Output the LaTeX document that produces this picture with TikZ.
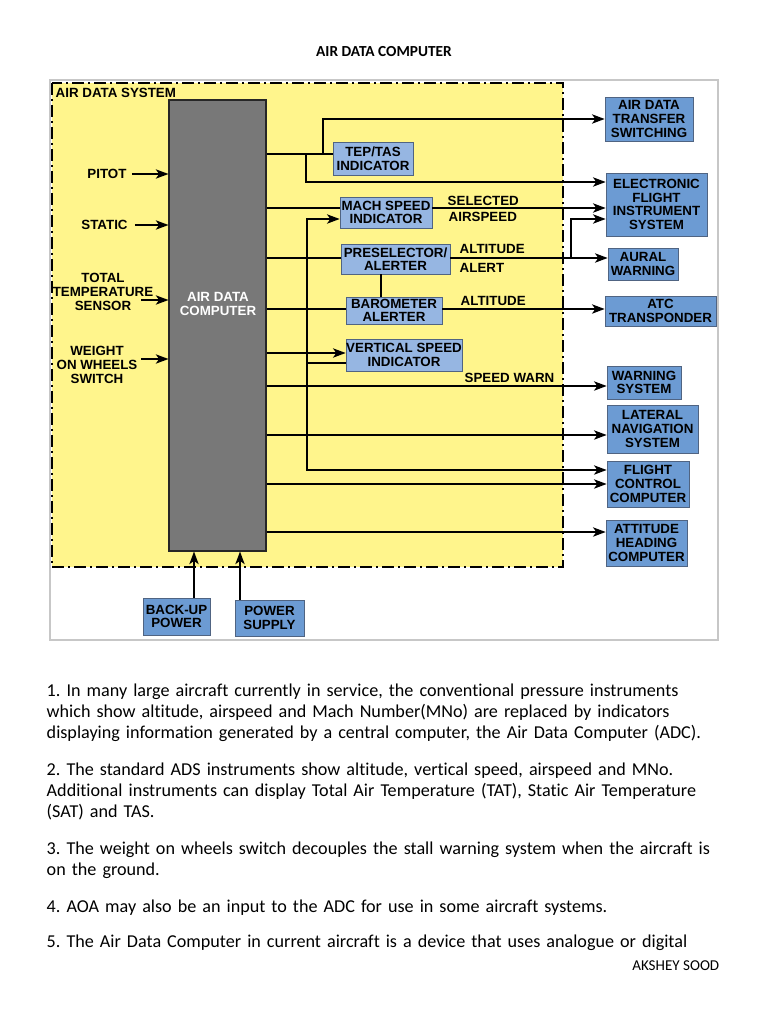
\documentclass[tikz,border=0pt]{standalone}
\usepackage{fontspec}
\setmainfont{Carlito}[Ligatures=NoCommon]
\newfontfamily\labelfont{Liberation Sans}
\usepackage{tikz}
\usetikzlibrary{arrows.meta, positioning, calc}
\definecolor{adsyellow}{RGB}{255,245,140}
\definecolor{instblue}{RGB}{150,182,226}
\definecolor{sysblue}{RGB}{108,155,211}
\definecolor{adcgrey}{RGB}{120,120,120}
\definecolor{boxedge}{RGB}{80,100,130}
\frenchspacing
\tikzset{
        x=0.75pt, y=-0.75pt, % one unit is one pixel of the page
        arr/.style={-{Stealth[length=9.5pt,width=7pt,inset=2.5pt]}}, % big black arrow head
        lbl/.style={font=\labelfont\bfseries\fontsize{10}{10.2}\selectfont, align=center, inner sep=0pt, text=black},
        txt/.style={font=\fontsize{13.6}{15.75}\selectfont, align=left, inner sep=0pt, text width=540pt},
    }
\tikzstyle{inst}=[draw=boxedge, line width=0.5pt, fill=instblue, lbl]
\tikzstyle{sys}=[draw=boxedge, line width=0.5pt, fill=sysblue, lbl]

\begin{document}
\begin{tikzpicture}[line width=1.1pt]
    \useasboundingbox[fill=white] (0,0) rectangle (768,1024);
    \node[font=\bfseries\fontsize{11.5}{13}\selectfont] (title) at (384,52) {AIR DATA COMPUTER};

    % frame and air data system area
    \draw[black!22, line width=0.8pt] (50,80) rectangle (718,640);
    \draw[fill=adsyellow, dash pattern=on 9pt off 3pt on 1.5pt off 3pt] (52,83) rectangle (563,567);
    \node[lbl, anchor=west] (ads) at (55,93) {AIR DATA SYSTEM};

    \node[draw=black!85, line width=0.8pt, fill=adcgrey, minimum width=72.75pt, minimum height=338.25pt] (adc) at (217.5,325.5) {};
    \node[lbl, text=white] (adctxt) at (218,304) {AIR DATA\\COMPUTER};

    % inputs
    \node[lbl] (pitot) at (107,174) {PITOT};
    \node[lbl] (static) at (104.5,225) {STATIC};
    \node[lbl] (tts) at (103,292) {TOTAL\\TEMPERATURE\\SENSOR};
    \node[lbl] (wow) at (97,365) {WEIGHT\\ON WHEELS\\SWITCH};
    \coordinate (ttsin) at (141,300);
    \coordinate (wowin) at (141,359);
    \draw[arr] ([xshift=3.5pt]pitot.east) -- (pitot.east -| adc.west);
    \draw[arr] ([xshift=5pt]static.east) -- (static.east -| adc.west);
    \draw[arr] (ttsin) -- (ttsin -| adc.west);
    \draw[arr] (wowin) -- (wowin -| adc.west);

    \node[sys, minimum width=50.25pt, minimum height=27.75pt] (bup) at (176.5,616.5) {BACK-UP\\POWER};
    \node[sys, minimum width=51.75pt, minimum height=27pt] (psu) at (269.5,618) {POWER\\SUPPLY};
    \coordinate (bupout) at ($(bup.north)+(17.5,0)$);
    \coordinate (psuout) at ($(psu.north)+(-29.5,0)$);
    \draw[arr] (bupout) -- (bupout |- adc.south);
    \draw[arr] (psuout) -- (psuout |- adc.south);

    % indicators inside the system
    \node[inst, minimum width=60pt, minimum height=24.75pt] (tep) at (373,158.5) {TEP/TAS\\INDICATOR};
    \node[inst, minimum width=69pt, minimum height=23.25pt] (mach) at (386,212.5) {MACH SPEED\\INDICATOR};
    \node[inst, minimum width=81.75pt, minimum height=22.5pt] (presel) at (395.5,259) {PRESELECTOR/\\ALERTER};
    \node[inst, minimum width=72pt, minimum height=20.25pt] (baro) at (394,310.5) {BAROMETER\\ALERTER};
    \node[inst, minimum width=87pt, minimum height=24pt] (vsi) at (404,355) {VERTICAL SPEED\\INDICATOR};

    % systems outside
    \node[sys, minimum width=66pt, minimum height=33pt] (adts) at (649,119) {AIR DATA\\TRANSFER\\SWITCHING};
    \node[sys, minimum width=75.75pt, minimum height=47.25pt] (efis) at (656.5,204.5) {ELECTRONIC\\FLIGHT\\INSTRUMENT\\SYSTEM};
    \node[sys, minimum width=52.5pt, minimum height=24pt] (aural) at (643,264) {AURAL\\WARNING};
    \node[sys, minimum width=83.25pt, minimum height=22.5pt] (atc) at (660.5,311) {ATC\\TRANSPONDER};
    \node[sys, minimum width=55.5pt, minimum height=24.75pt] (warn) at (644,382.5) {WARNING\\SYSTEM};
    \node[sys, minimum width=68.25pt, minimum height=36pt] (lnav) at (652.5,429) {LATERAL\\NAVIGATION\\SYSTEM};
    \node[sys, minimum width=61.5pt, minimum height=34.5pt] (fcc) at (648,484) {FLIGHT\\CONTROL\\COMPUTER};
    \node[sys, minimum width=60.75pt, minimum height=34.5pt] (ahc) at (646.5,543) {ATTITUDE\\HEADING\\COMPUTER};

    % line labels
    \node[lbl, anchor=west] (selspd) at (447,201) {SELECTED};
    \node[lbl, anchor=west] (airspd) at (448,217) {AIRSPEED};
    \node[lbl, anchor=west] (altalt) at (459,249) {ALTITUDE};
    \node[lbl, anchor=west] (alert) at (459,268) {ALERT};
    \node[lbl, anchor=west] (baroalt) at (460,301) {ALTITUDE};
    \node[lbl, anchor=east] (spdwarn) at (555,378) {SPEED WARN};

    % junction points
    \coordinate (j1) at (306,154);
    \coordinate (j2) at (323,154);
    \coordinate (jmach) at (0,208);
    \coordinate (jalt) at (571,258);
    \coordinate (jbaro) at (0,309);
    \coordinate (v1) at (307,219);
    \coordinate (v2) at (307,470);
    \coordinate (v3) at (307,363);
    \coordinate (psb) at ($(presel.south)+(-14.5,0)$);

    % outputs
    \draw (adc.east |- j1) -- (j1 -| tep.west);
    \draw[arr] (j2) |- (adts.west);
    \draw[arr] (j1) |- ($(efis.west)+(0,-22.5)$);
    \draw (adc.east |- jmach) -- (jmach -| mach.west);
    \draw[arr] (mach.east |- jmach) -- (jmach -| efis.west);
    \draw (adc.east |- jalt) -- (jalt -| presel.west);
    \draw[arr] (presel.east |- jalt) -- (jalt -| aural.west);
    \draw[arr] (jalt) |- (v1 -| efis.west);
    \draw (psb) -- (psb |- baro.north);
    \draw (adc.east |- jbaro) -- (jbaro -| baro.west);
    \draw[arr] (baro.east |- jbaro) -- (jbaro -| atc.west);
    \draw[arr] (adc.east |- 0,353) -- (vsi.west |- 0,353);
    \draw (v3) -- (v3 -| vsi.west);
    \draw[arr] (v2) |- (v1 -| mach.west);
    \draw[arr] (v1) |- (v2 -| fcc.west);
    \foreach \y/\b in {386/warn, 435/lnav, 484/fcc, 532/ahc}
        \draw[arr] (adc.east |- 0,\y) -- (\b.west |- 0,\y);

    % notes
    \node[txt, anchor=base west] (p1) at (46,696) {1. In many large aircraft currently in service, the conventional pressure instruments\\which show altitude, airspeed and Mach Number(MNo) are replaced by indicators\\displaying information generated by a central computer, the Air Data Computer (ADC).};
    \node[txt, anchor=base west] (p2) at (46,775) {2. The standard ADS instruments show altitude, vertical speed, airspeed and MNo.\\Additional instruments can display Total Air Temperature (TAT), Static Air Temperature\\(SAT) and TAS.};
    \node[txt, anchor=base west] (p3) at (46,854) {3. The weight on wheels switch decouples the stall warning system when the aircraft is\\on the ground.};
    \node[txt, anchor=base west] (p4) at (46,912) {4. AOA may also be an input to the ADC for use in some aircraft systems.};
    \node[txt, anchor=base west] (p5) at (46,947) {5. The Air Data Computer in current aircraft is a device that uses analogue or digital};
    \node[font=\fontsize{11.3}{13}\selectfont, anchor=base east, inner sep=0pt] (author) at (720,970) {AKSHEY SOOD};
\end{tikzpicture}
\end{document}
